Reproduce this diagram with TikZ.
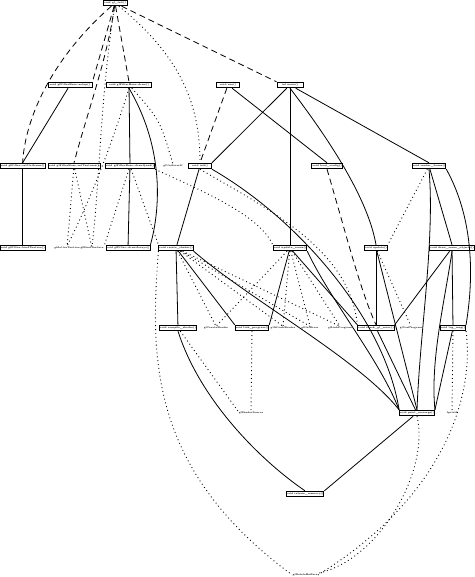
\documentclass[tikz,border=0pt]{standalone}
\begin{document}
\begin{tikzpicture}[x=1pt,y=-1pt,
  fn/.style={draw, line width=0.9pt, inner sep=0.4pt, minimum height=5.5pt, fill=white, font=\fontsize{2.4}{3}\selectfont\bfseries},
  ext/.style={inner sep=0.4pt, font=\fontsize{2.4}{3}\selectfont\bfseries},
  call/.style={line width=0.8pt},
  dcall/.style={line width=0.8pt, dash pattern=on 6pt off 4pt},
  ocall/.style={line width=0.9pt, dash pattern=on 0.9pt off 3pt}]
\useasboundingbox (0,0) rectangle (474,577);
% nodes
\node[fn, minimum width=24pt] (top) at (115,3) {void gl\_init()};
\node[fn, minimum width=44pt] (a1) at (70,85) {void glFilterBase::setup()};
\node[fn, minimum width=45pt] (a2) at (129,85) {void glFilterBase::draw()};
\node[fn, minimum width=23pt] (a3) at (228,85) {void run()};
\node[fn, minimum width=26pt] (a4) at (290,85) {int main()};
\node[fn, minimum width=45pt] (b1) at (22.6,166) {void glFilter::setUniforms()};
\node[fn, minimum width=52pt] (b2) at (74,166) {void glFilterBase::setTextures()};
\node[fn, minimum width=49pt] (b3) at (130,166) {void glFilterBase::drawQuad()};
\node[ext] (b4) at (173,166) {glUniform1f};
\node[fn, minimum width=23pt] (b5) at (200,166) {void init()};
\node[fn, minimum width=29pt] (b6) at (327,166) {void load\_config()};
\node[fn, minimum width=32pt] (b7) at (429,166) {void render\_frame()};
\node[fn, minimum width=45pt] (c1) at (22.6,248) {void glFilter::bindTexture()};
\node[ext] (c2) at (67,248) {glActiveTexture};
\node[ext] (c3) at (92,248) {glBindTexture};
\node[fn, minimum width=44pt] (c4) at (128,248) {void glFilter::drawArrays()};
\node[fn, minimum width=31pt] (c5) at (176,248) {void create\_shader()};
\node[fn, minimum width=30pt] (c6) at (290,248) {void update\_scene()};
\node[fn, minimum width=22pt] (c7) at (376,248) {void update()};
\node[fn, minimum width=40pt] (c8) at (452,248) {void draw\_scene\_objects()};
\node[fn, minimum width=35pt] (d1) at (178,328) {void compile\_shader()};
\node[ext] (d2) at (216,328) {glCreateShader};
\node[fn, minimum width=33pt] (d3) at (252,328) {void link\_program()};
\node[ext] (d4) at (283,328) {glAttachShader};
\node[ext] (d5) at (310,328) {glGetError};
\node[ext] (d6) at (340,328) {glLinkProgram};
\node[fn, minimum width=35pt] (d7) at (376,328) {void check\_gl\_error()};
\node[ext] (d8) at (411,328) {glUseProgram};
\node[fn, minimum width=23pt] (d9) at (453,328) {void log\_msg()};
\node[ext] (e1) at (251,413) {glShaderSource};
\node[fn, minimum width=29pt] (e2) at (417,413) {void print\_message()};
\node[ext] (e3) at (452,413) {fprintf};
\node[fn, minimum width=35pt] (f) at (305,494) {void release\_memory()};
\node[ext] (g) at (305,575) {glDeleteBuffers};
% edges from top
\draw[dcall] (top) .. controls (50,60) and (25,120) .. (b1.north);
\draw[dcall] (top) -- (a1.north east);
\draw[dcall] (top) .. controls (107,60) and (88,110) .. (b2.north);
\draw[dcall] (top) -- (a2.north);
\draw[ocall] (top) .. controls (100,100) and (100,180) .. (c3.north);
\draw[ocall] (top) .. controls (185,60) and (200,110) .. (b5.north);
\draw[dcall] (top) -- (a4.north west);
% level A
\draw[call] (a1) -- (b1.north);
\draw[call] (a2) -- (b3);
\draw[call] (a2.south) .. controls (165,150) and (160,210) .. (c4.north east);
\draw[ocall] (a2) .. controls (160,120) .. (b4.north);
\draw[ocall] (a2.south) .. controls (110,150) and (90,200) .. (c2.north);
\draw[dcall] (a3) -- (b5.north);
\draw[call] (a3) -- (b6.north);
\draw[call] (a4) -- (b5.north east);
\draw[call] (a4) -- (c6);
\draw[call] (a4.south) .. controls (345,160) and (370,210) .. (c7.north);
\draw[call] (a4) -- (b7.north);
% level B
\draw[call] (b1) -- (c1);
\draw[ocall] (b2) -- (c2);
\draw[ocall] (b2) -- (c3);
\draw[call] (b3) -- (c4);
\draw[ocall] (b3) -- (c3.north east);
\draw[ocall] (b3.south east) .. controls (200,190) and (260,215) .. (c6.north west);
\draw[ocall] (b3) -- (c5.north west);
\draw[call] (b5) -- (c5);
\draw[call] (b5.south east) .. controls (300,220) and (385,320) .. (e2.north west);
\draw[ocall] (b5.south) .. controls (270,210) and (350,250) .. (d7.north west);
\draw[dcall] (b6.south) .. controls (345,230) and (360,290) .. (d7.north);
\draw[ocall] (b7) -- (c7.north east);
\draw[call] (b7) -- (c8.north);
\draw[call] (b7.south) .. controls (435,240) and (420,330) .. (e2.north);
\draw[call] (b7.south east) .. controls (480,230) and (470,300) .. (d9.north east);
% level C
\draw[call] (c5) -- (d1);
\draw[call] (c5) -- (d3.north west);
\draw[call] (c5.south east) .. controls (250,300) and (360,360) .. (e2.north west);
\draw[ocall] (c5) -- (d2.north);
\draw[ocall] (c5) -- (d4.north);
\draw[ocall] (c5) -- (d5.north);
\draw[ocall] (c5) -- (d6.north);
\draw[ocall] (c5.south west) .. controls (150,360) and (150,470) .. (g.west);
\draw[call] (c6) -- (d3.north east);
\draw[call] (c6) -- (d7.north west);
\draw[call] (c6.south east) .. controls (330,300) and (380,360) .. (e2.north west);
\draw[ocall] (c6) -- (d4.north);
\draw[ocall] (c6) -- (d5.north);
\draw[ocall] (c6) -- (d6.north);
\draw[ocall] (c6) -- (d2.north);
\draw[call] (c7) -- (d7);
\draw[call] (c7) -- (e2.north);
\draw[ocall] (c7) -- (d8.north);
\draw[call] (c8) -- (d9);
\draw[call] (c8) -- (d7.north east);
\draw[call] (c8.south) .. controls (445,300) and (430,360) .. (e2.north east);
% level D
\draw[ocall] (d3) -- (e1);
\draw[ocall] (d1) -- (e1.north west);
\draw[call] (d1.south) .. controls (200,400) and (260,460) .. (f.north);
\draw[call] (d7) -- (e2);
\draw[call] (d9) -- (e2.north east);
\draw[ocall] (d9) -- (e3);
\draw[ocall] (d9.south east) .. controls (475,400) and (440,500) .. (g.east);
% level E
\draw[call] (e2) -- (f.north east);
\draw[ocall] (e2.south) .. controls (430,470) and (380,560) .. (g.north east);
\end{tikzpicture}
\end{document}
